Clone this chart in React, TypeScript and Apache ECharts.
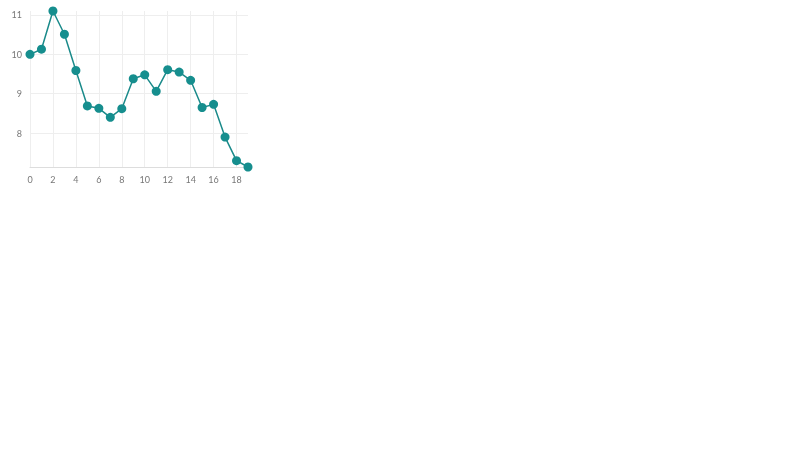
import { useEffect, useRef } from 'react';
import * as echarts from 'echarts';

const xs = [0, 1, 2, 3, 4, 5, 6, 7, 8, 9, 10, 11, 12, 13, 14, 15, 16, 17, 18, 19];
const values = [10.0, 10.13, 11.1, 10.51, 9.59, 8.69, 8.63, 8.4, 8.62, 9.38, 9.48, 9.06, 9.61, 9.55, 9.34, 8.65, 8.73, 7.9, 7.3, 7.14];
const yTicks = [8, 9, 10, 11];

export default function App() {
  const chartRef = useRef<HTMLDivElement>(null);

  useEffect(() => {
    if (!chartRef.current) return;
    const chart = echarts.init(chartRef.current, undefined, { renderer: 'svg' });
    const axisLabel = { color: '#777', fontSize: 9, fontFamily: 'Lato' };
    chart.setOption({
      animation: false,
      grid: { left: 30, top: 11, width: 218, height: 156, containLabel: false, outerBoundsMode: 'none' },
      xAxis: {
        type: 'value',
        min: 0,
        max: 19,
        interval: 2,
        axisLine: { lineStyle: { color: '#ddd' } },
        axisTick: { show: false },
        axisLabel: { ...axisLabel, showMaxLabel: false },
        splitLine: { showMaxLine: false, lineStyle: { color: '#eee' } },
      },
      yAxis: {
        type: 'value',
        min: 'dataMin',
        max: 'dataMax',
        axisLine: { show: false },
        axisTick: { show: false, customValues: yTicks },
        axisLabel: { ...axisLabel, customValues: yTicks },
        splitLine: { lineStyle: { color: '#eee' } },
      },
      series: [
        {
          type: 'line',
          data: xs.map((x, i) => [x, values[i]]),
          symbol: 'circle',
          symbolSize: 9,
          lineStyle: { color: '#1a8a8a', width: 1.5 },
          itemStyle: { color: '#168e8e' },
        },
      ],
    });
    return () => chart.dispose();
  }, []);

  return <div ref={chartRef} style={{ position: 'fixed', left: 0, top: 0, width: 800, height: 450 }} />;
}
